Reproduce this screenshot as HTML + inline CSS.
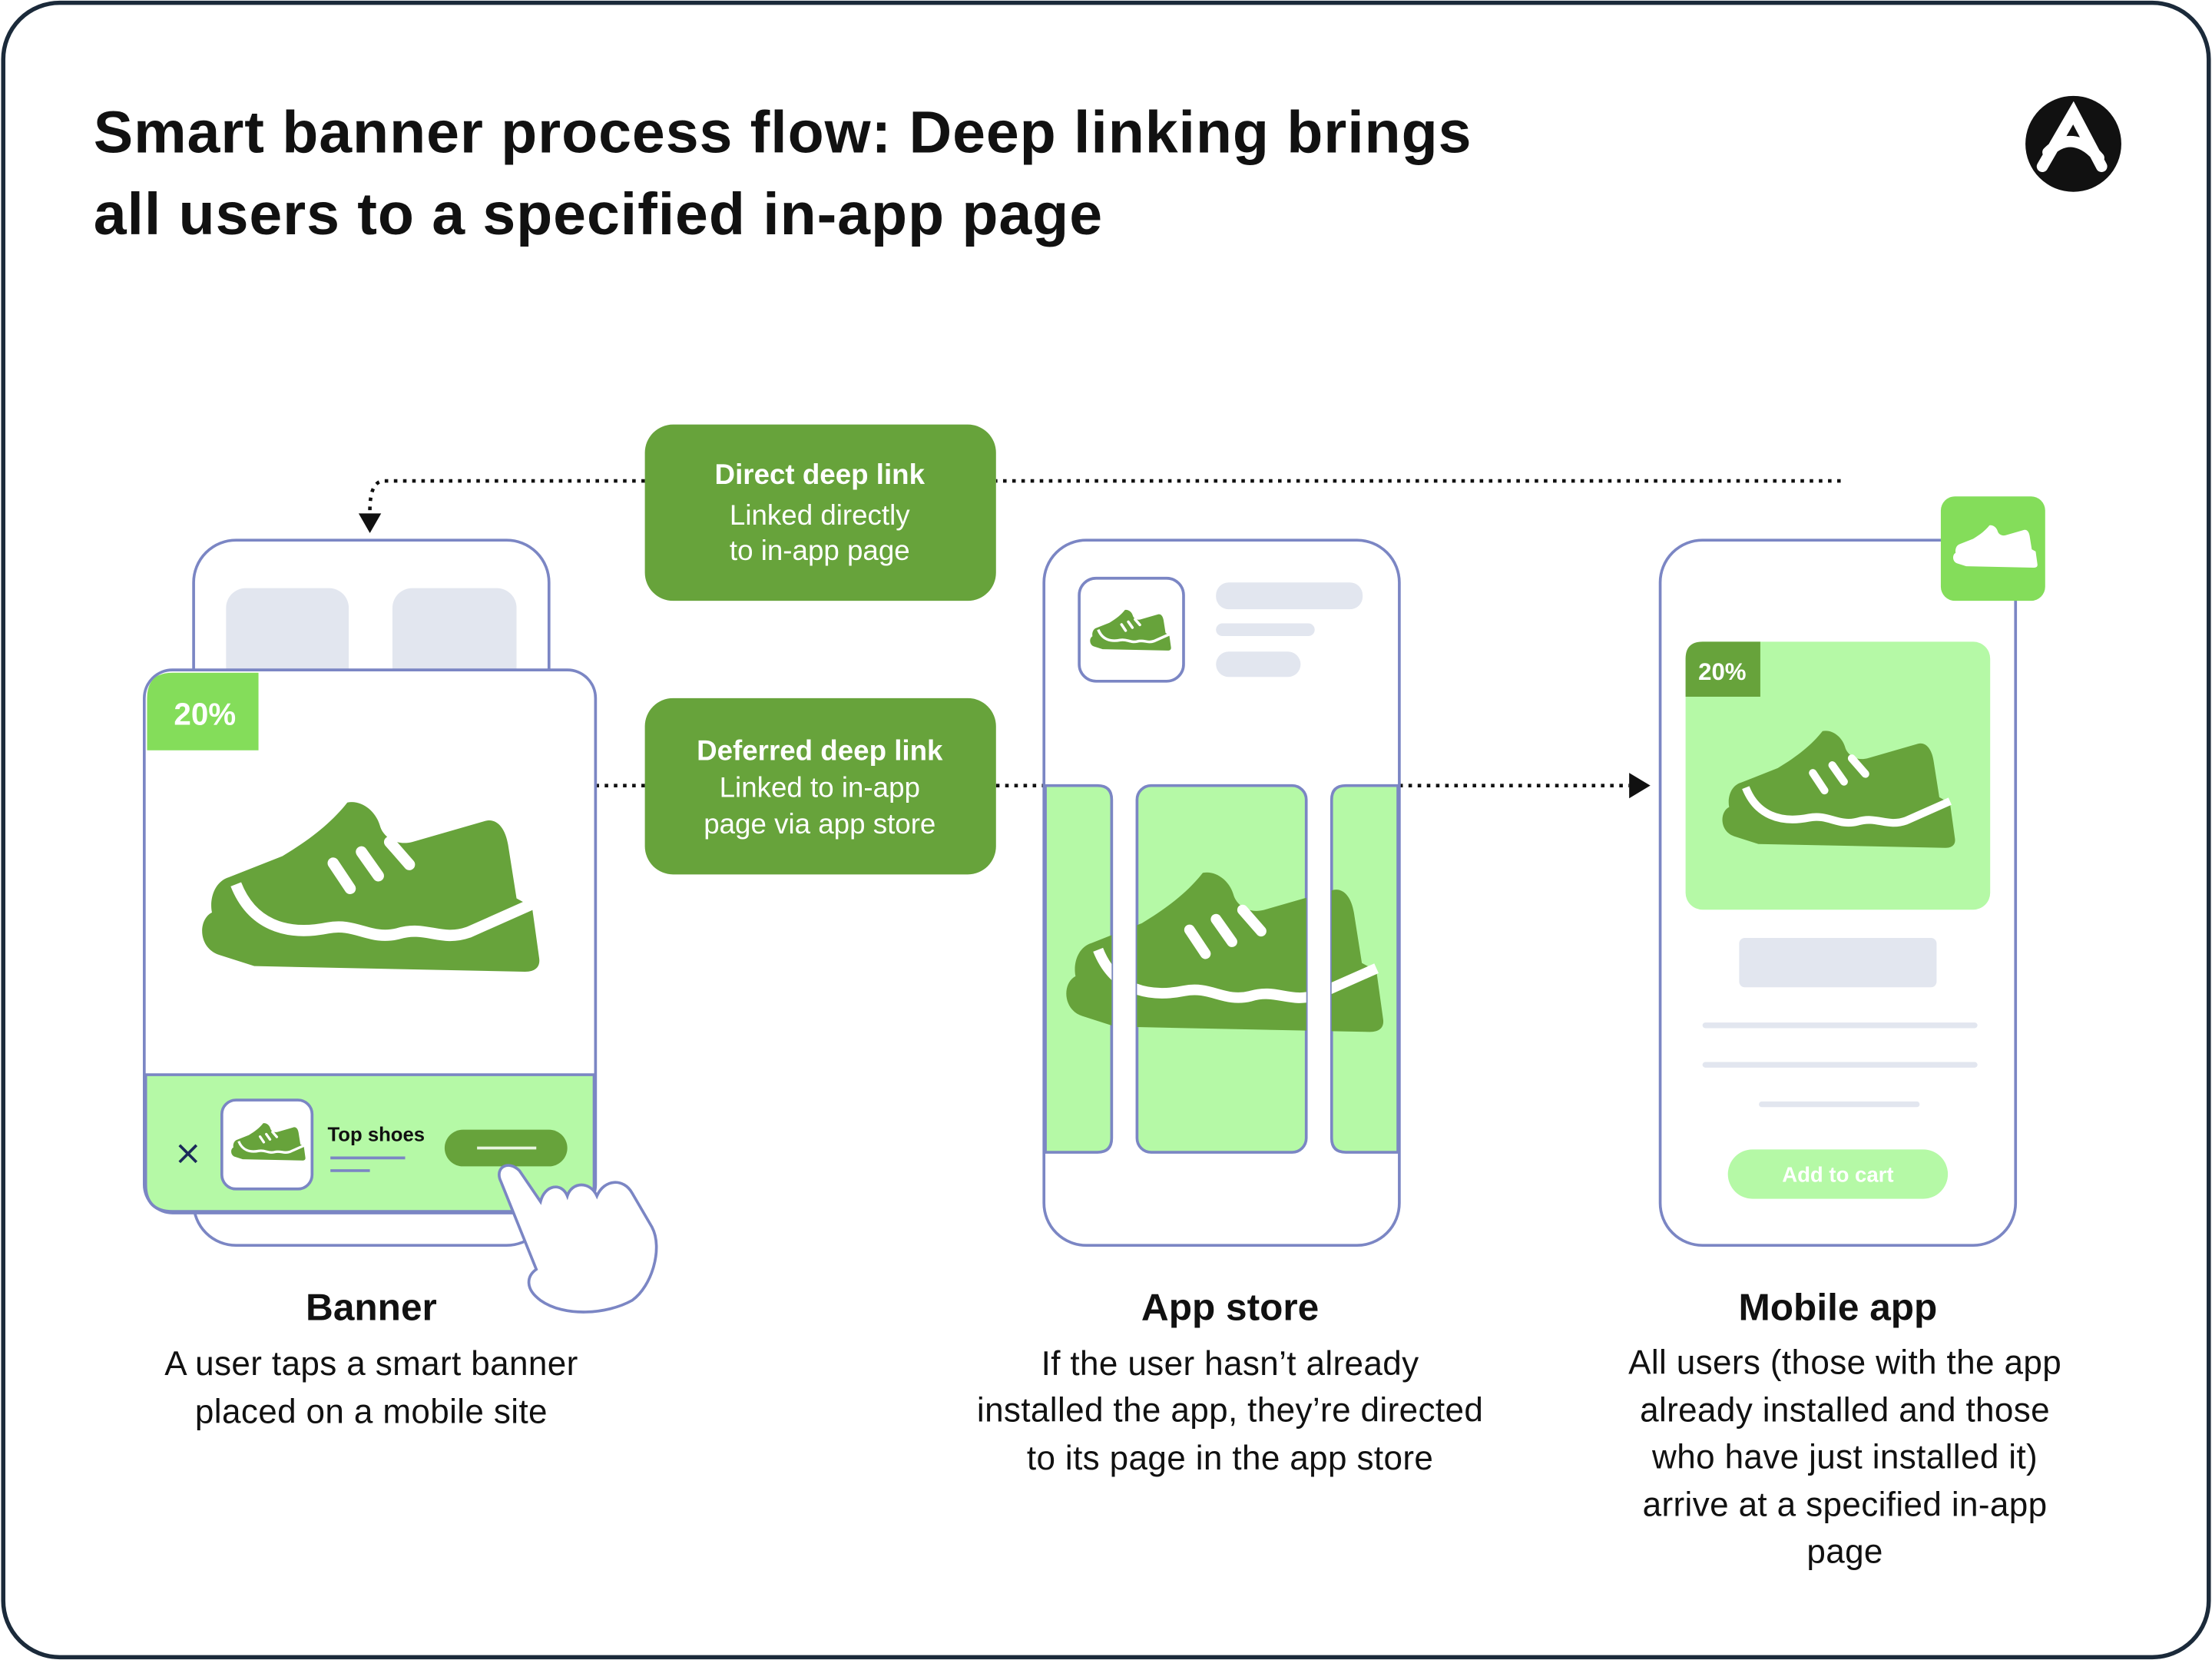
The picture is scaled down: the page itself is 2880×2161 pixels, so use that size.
<!DOCTYPE html>
<html><head><meta charset="utf-8"><style>
html,body{margin:0;padding:0;background:#fff;}
svg{display:block;}
text{font-family:"Liberation Sans",sans-serif;}
</style></head><body>
<svg width="2880" height="2161" viewBox="0 0 1568 1177" xmlns="http://www.w3.org/2000/svg">
<defs>
<g id="shoe">
<path d="M10,80 C0,85 0,105 15,110 L40,118 L232,122 C240,122 243,118 242,112 L237,76 L226,70 L220,32 C218,20 212,13 204,15 L152,30 C140,33 131,26 129,18 C126,8 116,0 106,2 C95,16 80,28 60,40 L22,55 C12,58 8,70 10,80 Z" fill="#67a33b"/>
<path d="M27,60 C38,88 62,97 92,91 C112,87 122,100 142,95 C162,89 172,101 192,94 L237,74" fill="none" stroke="#fff" stroke-width="8"/>
<path d="M96,45 L108,63 M116,37 L128,54 M136,30 L150,46" stroke="#fff" stroke-width="8" stroke-linecap="round"/>
</g>
<clipPath id="c1"><rect x="740" y="556" width="48" height="261" rx="10"/></clipPath>
<clipPath id="c2"><rect x="806" y="556" width="120" height="261" rx="10"/></clipPath>
<clipPath id="c3"><rect x="944" y="556" width="48" height="261" rx="10"/></clipPath>
</defs>
<rect x="2" y="2" width="1564" height="1173" rx="40" fill="#fff" stroke="#1b2a3a" stroke-width="3"/>
<text x="66" y="108" font-size="42" font-weight="bold" fill="#111" letter-spacing="0.5">Smart banner process flow: Deep linking brings</text>
<text x="66" y="166" font-size="42" font-weight="bold" fill="#111" letter-spacing="0.5">all users to a specified in-app page</text>
<circle cx="1470" cy="102" r="34" fill="#111"/>
<path d="M1448,118 L1470,80 L1490,118 M1452,108 C1465,95 1478,100 1488,112" stroke="#fff" stroke-width="8" fill="none" stroke-linecap="round"/>

<g stroke="#111" stroke-width="2.5" stroke-dasharray="2.5 4" fill="none">
<path d="M1305,341 L706,341"/>
<path d="M457,341 L272,341 Q262,341 262,362"/>
<path d="M422,557 L457,557"/>
<path d="M706,557 L740,557"/>
<path d="M992,557 L1155,557"/>
</g>
<path d="M254,364 L270,364 L262,378 Z" fill="#111"/>
<path d="M1155,548 L1170,557 L1155,566 Z" fill="#111"/>

<rect x="457" y="301" width="249" height="125" rx="20" fill="#67a33b"/>
<text x="581" y="343" font-size="20" font-weight="bold" fill="#fff" text-anchor="middle">Direct deep link</text>
<text x="581" y="372" font-size="20" fill="#fff" text-anchor="middle">Linked directly</text>
<text x="581" y="397" font-size="20" fill="#fff" text-anchor="middle">to in-app page</text>
<rect x="457" y="495" width="249" height="125" rx="20" fill="#67a33b"/>
<text x="581" y="539" font-size="20" font-weight="bold" fill="#fff" text-anchor="middle">Deferred deep link</text>
<text x="581" y="565" font-size="20" fill="#fff" text-anchor="middle">Linked to in-app</text>
<text x="581" y="591" font-size="20" fill="#fff" text-anchor="middle">page via app store</text>

<rect x="137" y="383" width="252" height="500" rx="30" fill="#fff" stroke="#7b86c4" stroke-width="2"/>
<rect x="160" y="417" width="87" height="70" rx="14" fill="#e2e6ef"/>
<rect x="278" y="417" width="88" height="70" rx="14" fill="#e2e6ef"/>
<rect x="102" y="475" width="320" height="385" rx="20" fill="#fff" stroke="#7b86c4" stroke-width="2"/>
<path d="M103,762 L421,762 L421,840 Q421,859 402,859 L122,859 Q103,859 103,840 Z" fill="#b5f9a6" stroke="#7b86c4" stroke-width="2"/>
<path d="M104,532 L104,495 Q104,477 122,477 L183,477 L183,532 Z" fill="#84dd5a"/>
<text x="145" y="514" font-size="22" font-weight="bold" fill="#fff" text-anchor="middle">20%</text>
<use href="#shoe" transform="translate(140,567)"/>
<path d="M127,812 L139,824 M139,812 L127,824" stroke="#1b2a5a" stroke-width="2"/>
<rect x="157" y="780" width="64" height="63" rx="10" fill="#fff" stroke="#7b86c4" stroke-width="2"/>
<use href="#shoe" transform="translate(163,796) scale(0.22)"/>
<text x="232" y="809" font-size="14" font-weight="bold" fill="#111">Top shoes</text>
<path d="M234,821 L287,821 M234,830 L262,830" stroke="#7b86c4" stroke-width="2"/>
<rect x="315" y="801" width="87" height="26" rx="13" fill="#67a33b"/>
<path d="M338,814 L380,814" stroke="#e8f5e0" stroke-width="2"/>
<path d="M355,838 C350,828 360,822 368,830 L383,852 C386,840 398,838 402,848 C405,838 418,837 423,848 C428,836 442,835 448,846 L462,870 C470,885 462,912 448,922 C430,932 400,934 383,922 C372,914 373,905 380,900 Z" fill="#fff" stroke="#7b86c4" stroke-width="2"/>
<text x="263" y="936" font-size="27" font-weight="bold" fill="#111" text-anchor="middle">Banner</text>
<text x="263" y="975" font-size="24" fill="#111" text-anchor="middle" letter-spacing="0.2">A user taps a smart banner</text>
<text x="263" y="1009" font-size="24" fill="#111" text-anchor="middle" letter-spacing="0.2">placed on a mobile site</text>

<rect x="740" y="383" width="252" height="500" rx="30" fill="#fff" stroke="#7b86c4" stroke-width="2"/>
<rect x="765" y="410" width="74" height="73" rx="12" fill="#fff" stroke="#7b86c4" stroke-width="2"/>
<use href="#shoe" transform="translate(772,432) scale(0.24)"/>
<rect x="862" y="413" width="104" height="19" rx="9" fill="#e2e6ef"/>
<rect x="862" y="442" width="70" height="9" rx="4.5" fill="#e2e6ef"/>
<rect x="862" y="462" width="60" height="18" rx="9" fill="#e2e6ef"/>
<g fill="#b5f9a6" stroke="#7b86c4" stroke-width="2">
<path d="M741,557 L778,557 Q788,557 788,567 L788,807 Q788,817 778,817 L741,817 Z"/>
<rect x="806" y="557" width="120" height="260" rx="10"/>
<path d="M991,557 L954,557 Q944,557 944,567 L944,807 Q944,817 954,817 L991,817 Z"/>
</g>
<g clip-path="url(#c1)"><use href="#shoe" transform="translate(753,617) scale(0.94)"/></g>
<g clip-path="url(#c2)"><use href="#shoe" transform="translate(753,617) scale(0.94)"/></g>
<g clip-path="url(#c3)"><use href="#shoe" transform="translate(753,617) scale(0.94)"/></g>
<text x="872" y="936" font-size="27" font-weight="bold" fill="#111" text-anchor="middle">App store</text>
<text x="872" y="975" font-size="24" fill="#111" text-anchor="middle" letter-spacing="0.2">If the user hasn’t already</text>
<text x="872" y="1008" font-size="24" fill="#111" text-anchor="middle" letter-spacing="0.2">installed the app, they’re directed</text>
<text x="872" y="1042" font-size="24" fill="#111" text-anchor="middle" letter-spacing="0.2">to its page in the app store</text>

<rect x="1177" y="383" width="252" height="500" rx="30" fill="#fff" stroke="#7b86c4" stroke-width="2"/>
<rect x="1376" y="352" width="74" height="74" rx="10" fill="#84dd5a"/>
<g transform="translate(1384,372) scale(0.25)"><path d="M10,80 C0,85 0,105 15,110 L40,118 L232,122 C240,122 243,118 242,112 L237,76 L226,70 L220,32 C218,20 212,13 204,15 L152,30 C140,33 131,26 129,18 C126,8 116,0 106,2 C95,16 80,28 60,40 L22,55 C12,58 8,70 10,80 Z" fill="#fff"/></g>
<rect x="1195" y="455" width="216" height="190" rx="12" fill="#b5f9a6"/>
<path d="M1195,494 L1195,467 Q1195,455 1207,455 L1248,455 L1248,494 Z" fill="#67a33b"/>
<text x="1221" y="482" font-size="17" font-weight="bold" fill="#fff" text-anchor="middle">20%</text>
<use href="#shoe" transform="translate(1219,517) scale(0.69)"/>
<rect x="1233" y="665" width="140" height="35" rx="4" fill="#e2e6ef"/>
<path d="M1209,727 L1400,727 M1209,755 L1400,755 M1249,783 L1359,783" stroke="#e2e6ef" stroke-width="4" stroke-linecap="round"/>
<rect x="1225" y="815" width="156" height="35" rx="17.5" fill="#b5f9a6"/>
<text x="1303" y="838" font-size="15" font-weight="bold" fill="#fff" text-anchor="middle">Add to cart</text>
<text x="1303" y="936" font-size="27" font-weight="bold" fill="#111" text-anchor="middle">Mobile app</text>
<text x="1308" y="974" font-size="24" fill="#111" text-anchor="middle" letter-spacing="0.2">All users (those with the app</text>
<text x="1308" y="1008" font-size="24" fill="#111" text-anchor="middle" letter-spacing="0.2">already installed and those</text>
<text x="1308" y="1041" font-size="24" fill="#111" text-anchor="middle" letter-spacing="0.2">who have just installed it)</text>
<text x="1308" y="1075" font-size="24" fill="#111" text-anchor="middle" letter-spacing="0.2">arrive at a specified in-app</text>
<text x="1308" y="1108" font-size="24" fill="#111" text-anchor="middle" letter-spacing="0.2">page</text>
</svg>
</body></html>
